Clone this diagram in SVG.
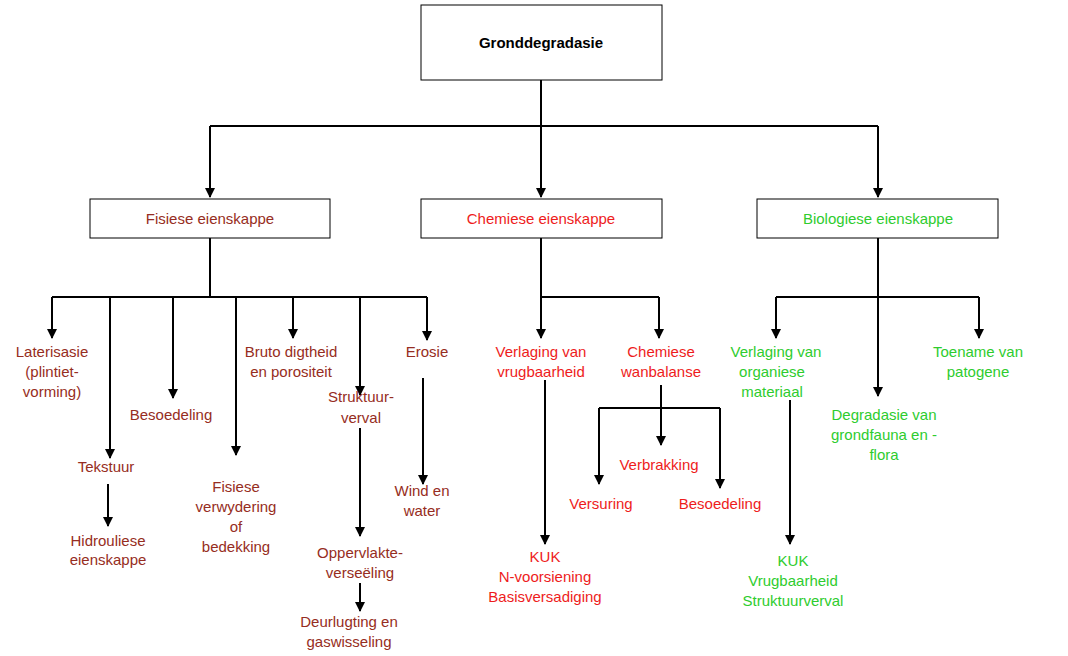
<svg xmlns="http://www.w3.org/2000/svg" width="1068" height="656" viewBox="0 0 1068 656">
<style>
text{font-family:"Liberation Sans",Arial,sans-serif;font-size:15px;text-anchor:middle}
.f{fill:#962d22}.c{fill:#ee1c1c}.b{fill:#2ecc2e}
.bx{fill:#fff;stroke:#000;stroke-width:1}
.l{fill:none;stroke:#000;stroke-width:2}
.a{fill:none;stroke:#000;stroke-width:2;marker-end:url(#m)}
</style>
<defs><marker id="m" viewBox="0 0 10 10" refX="9" refY="5" markerWidth="5" markerHeight="5" orient="auto" markerUnits="strokeWidth"><path d="M0,0L10,5L0,10z" fill="#000"/></marker></defs>
<rect width="1068" height="656" fill="#fff"/>
<g id="connectors">
<path class="l" d="M541,80V126M210,126H878"/>
<path class="a" d="M210,126V197"/><path class="a" d="M541,126V197"/><path class="a" d="M878,126V197"/>
<path class="l" d="M210,238V297M52,297H427"/>
<path class="a" d="M52,297V338"/><path class="a" d="M110,297V458"/><path class="a" d="M173,297V398"/><path class="a" d="M236,297V455"/><path class="a" d="M293,297V338"/><path class="a" d="M360,297V395"/><path class="a" d="M427,297V340"/>
<path class="a" d="M108,484V526"/><path class="a" d="M360,428V536"/><path class="a" d="M360,583V611"/><path class="a" d="M423,378V484"/>
<path class="l" d="M541,238V297H659"/>
<path class="a" d="M541,297V338"/><path class="a" d="M659,297V338"/><path class="a" d="M545,380V544"/>
<path class="l" d="M661,385V408M599,408H720"/>
<path class="a" d="M599,408V484"/><path class="a" d="M661,408V445"/><path class="a" d="M720,408V488"/>
<path class="l" d="M878,238V297M776,297H979"/>
<path class="a" d="M776,297V338"/><path class="a" d="M878,297V396"/><path class="a" d="M979,297V338"/><path class="a" d="M790,400V544"/>
</g>
<g id="top"><rect class="bx" x="421" y="5" width="241" height="75"/><text x="541" y="48" style="font-weight:bold">Gronddegradasie</text></g>
<g id="fis"><rect class="bx" x="90" y="199" width="240" height="39"/><text class="f" x="210" y="224">Fisiese eienskappe</text></g>
<g id="chem"><rect class="bx" x="421" y="199" width="241" height="39"/><text class="c" x="541" y="224">Chemiese eienskappe</text></g>
<g id="bio"><rect class="bx" x="757" y="199" width="241" height="39"/><text class="b" x="878" y="224">Biologiese eienskappe</text></g>
<g id="fl">
<text class="f" x="52" y="357">Laterisasie</text><text class="f" x="52" y="377">(plintiet-</text><text class="f" x="52" y="397">vorming)</text>
<text class="f" x="106" y="472">Tekstuur</text>
<text class="f" x="108" y="546">Hidrouliese</text><text class="f" x="108" y="565">eienskappe</text>
<text class="f" x="171" y="420">Besoedeling</text>
<text class="f" x="236" y="492">Fisiese</text><text class="f" x="236" y="512">verwydering</text><text class="f" x="236" y="532">of</text><text class="f" x="236" y="552">bedekking</text>
<text class="f" x="291" y="357">Bruto digtheid</text><text class="f" x="291" y="377">en porositeit</text>
<text class="f" x="361" y="402">Struktuur-</text><text class="f" x="361" y="423">verval</text>
<text class="f" x="360" y="558">Oppervlakte-</text><text class="f" x="360" y="578">verseëling</text>
<text class="f" x="349" y="627">Deurlugting en</text><text class="f" x="349" y="647">gaswisseling</text>
<text class="f" x="427" y="357">Erosie</text>
<text class="f" x="422" y="496">Wind en</text><text class="f" x="422" y="516">water</text>
</g>
<g id="cl">
<text class="c" x="541" y="357">Verlaging van</text><text class="c" x="541" y="377">vrugbaarheid</text>
<text class="c" x="545" y="562">KUK</text><text class="c" x="545" y="582">N-voorsiening</text><text class="c" x="545" y="602">Basisversadiging</text>
<text class="c" x="661" y="357">Chemiese</text><text class="c" x="661" y="377">wanbalanse</text>
<text class="c" x="659" y="470">Verbrakking</text>
<text class="c" x="601" y="509">Versuring</text>
<text class="c" x="720" y="509">Besoedeling</text>
</g>
<g id="bl">
<text class="b" x="776" y="357">Verlaging van</text><text class="b" x="772" y="377">organiese</text><text class="b" x="772" y="397">materiaal</text>
<text class="b" x="793" y="566">KUK</text><text class="b" x="793" y="586">Vrugbaarheid</text><text class="b" x="793" y="606">Struktuurverval</text>
<text class="b" x="884" y="420">Degradasie van</text><text class="b" x="884" y="440">grondfauna en -</text><text class="b" x="884" y="460">flora</text>
<text class="b" x="978" y="357">Toename van</text><text class="b" x="978" y="377">patogene</text>
</g>
</svg>
